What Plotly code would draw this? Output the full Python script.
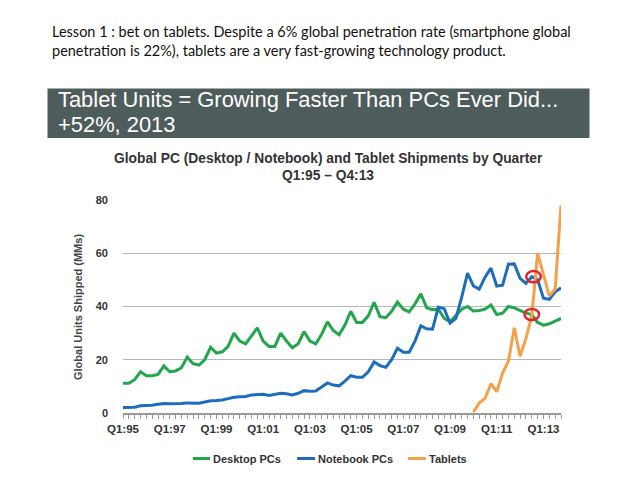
import plotly.graph_objects as go

# ---------------- data ----------------
years = list(range(1995, 2014))
quarters = [f"Q{q}:{y % 100:02d}" for y in years for q in range(1, 5)]
tick_labels = [f"<b>{lab}</b>" if (lab.startswith("Q1:") and int(lab[3:]) % 2 == 1) else "" for lab in quarters]

desktop = [11.2, 11.2, 12.5, 15.5, 14.0, 14.0, 14.5, 17.7, 15.5, 15.8,
           17.0, 21.0, 18.5, 18.0, 20.0, 24.7, 22.5, 23.0, 25.0, 30.0,
           27.0, 26.0, 29.0, 32.0, 27.0, 25.0, 25.0, 30.0, 27.0, 24.5,
           26.0, 30.6, 27.0, 26.0, 29.5, 34.2, 31.0, 29.4, 33.0, 38.2,
           34.0, 34.0, 36.5, 41.6, 36.2, 35.8, 38.2, 41.7, 39.0, 38.0,
           41.0, 44.8, 39.5, 38.8, 39.0, 35.5, 34.3, 36.5, 39.0, 40.0,
           38.3, 38.5, 39.0, 40.6, 37.0, 37.5, 40.0, 39.5, 38.5, 37.5,
           37.0, 34.0, 33.0, 33.5, 34.5, 35.5]

notebook = [2.1, 2.1, 2.2, 2.7, 2.7, 2.9, 3.3, 3.6, 3.5, 3.5,
            3.6, 3.8, 3.8, 3.7, 4.1, 4.6, 4.7, 4.9, 5.4, 5.9,
            6.1, 6.2, 6.8, 7.0, 7.0, 6.6, 6.9, 7.4, 7.2, 6.8,
            7.4, 8.4, 8.2, 8.3, 9.8, 11.3, 10.5, 10.2, 12.0, 14.0,
            13.4, 13.4, 15.5, 19.2, 17.8, 17.2, 20.0, 24.3, 22.8, 22.8,
            27.0, 32.7, 31.6, 31.5, 39.8, 39.2, 33.8, 35.5, 43.5, 52.5,
            47.7, 46.5, 51.0, 54.4, 47.7, 48.0, 55.9, 56.0, 50.6, 48.7,
            51.2, 50.0, 43.1, 42.7, 45.5, 47.0]

tablets = [None] * 60 + [0.3, 3.8, 5.5, 11.0, 8.0, 15.0, 19.5, 32.0, 21.3, 28.0,
                         36.5, 60.0, 52.0, 44.0, 46.5, 78.0]

series_names = ["Desktop PCs", "Notebook PCs", "Tablets"]
series_colors = ["#22a64b", "#1d6dbf", "#f6a04b"]
highlight_index = 70  # Q3:12 crossover quarter

# ---------------- geometry helpers (layout only) ----------------
L, R, T, B = 123, 561, 200, 413
W, H = 638, 478
def px(x):
    return (x - L) / (R - L)
def py(y):
    return (B - y) / (B - T)

ARIAL = "Arial, 'Liberation Sans', Helvetica, sans-serif"

fig = go.Figure()
for name, vals, col in zip(series_names, [desktop, notebook, tablets], series_colors):
    fig.add_trace(go.Scatter(x=quarters, y=vals, mode="lines", name=name,
                             line=dict(color=col, width=3), showlegend=False,
                             connectgaps=False))

# red highlight ellipses around crossover points
for vals, dx in [(notebook, 0.3), (desktop, 0.0)]:
    cx = highlight_index + dx
    cy = vals[highlight_index]
    fig.add_shape(type="circle", xref="x", yref="y",
                  x0=cx - 1.25, x1=cx + 1.25, y0=cy - 2.1, y1=cy + 2.1,
                  line=dict(color="#e3262b", width=2.5))

shapes = []
# banner
shapes.append(dict(type="rect", xref="paper", yref="paper",
                   x0=px(47.5), x1=px(589.5), y0=py(138), y1=py(88.5),
                   fillcolor="#4f5c5c", line=dict(width=0), layer="below"))
# custom legend line samples
leg = [(193, 210), (297, 315), (408, 426)]
for (a, b), col in zip(leg, series_colors):
    shapes.append(dict(type="line", xref="paper", yref="paper",
                       x0=px(a), x1=px(b), y0=py(458.5), y1=py(458.5),
                       line=dict(color=col, width=3)))
for s in shapes:
    fig.add_shape(**s)

ann = []
slide_font = dict(family="Lato", size=14.5, color="#111111")
ann.append(dict(text="Lesson 1 : bet on tablets. Despite a 6% global penetration rate (smartphone global",
                x=px(50), y=py(31.5), xanchor="left", yanchor="middle", font=slide_font))
ann.append(dict(text="penetration is 22%), tablets are a very fast-growing technology product.",
                x=px(50), y=py(50.5), xanchor="left", yanchor="middle", font=slide_font))
banner_font = dict(family=ARIAL, size=21.9, color="#ffffff")
ann.append(dict(text="Tablet Units = Growing Faster Than PCs Ever Did...",
                x=px(55.5), y=py(99.5), xanchor="left", yanchor="middle", font=banner_font))
ann.append(dict(text="+52%, 2013",
                x=px(55.5), y=py(124.5), xanchor="left", yanchor="middle", font=banner_font))
title_font = dict(family=ARIAL, size=13.8, color="#333333")
ann.append(dict(text="<b>Global PC (Desktop / Notebook) and Tablet Shipments by Quarter</b>",
                x=px(328), y=py(158.5), xanchor="center", yanchor="middle", font=title_font))
ann.append(dict(text="<b>Q1:95 \u2013 Q4:13</b>",
                x=px(328), y=py(175.5), xanchor="center", yanchor="middle", font=title_font))
ann.append(dict(text="<b>Global Units Shipped (MMs)</b>", textangle=-90,
                x=px(78), y=py(307), xanchor="center", yanchor="middle",
                font=dict(family=ARIAL, size=11, color="#444444")))
for (a, b), name in zip(leg, series_names):
    ann.append(dict(text=f"<b>{name}</b>", x=px(b + 1), y=py(458.5), xanchor="left",
                    yanchor="middle", font=dict(family=ARIAL, size=11, color="#333333")))
for a in ann:
    fig.add_annotation(xref="paper", yref="paper", showarrow=False, **a)

fig.update_layout(
    width=W, height=H,
    margin=dict(l=L, r=W - R, t=T, b=H - B, pad=0),
    paper_bgcolor="white", plot_bgcolor="white",
    showlegend=False,
    font=dict(family=ARIAL),
    xaxis=dict(type="category", categoryorder="array", categoryarray=quarters,
               tickmode="array", tickvals=quarters, ticktext=tick_labels,
               ticks="outside", ticklen=4, tickcolor="#999999", tickwidth=1,
               showline=True, linecolor="#9a9a9a", linewidth=1.5,
               showgrid=False, tickangle=0,
               tickfont=dict(family=ARIAL, size=11.5, color="#333333")),
    yaxis=dict(range=[0, 80], dtick=20, showgrid=True, gridcolor="#b8b8b8", gridwidth=1.3,
               zeroline=False, showline=False, ticks="", ticklabelstandoff=14,
               tickfont=dict(family=ARIAL, size=11, color="#333333"),
               tickprefix="<b>", ticksuffix="</b>"),
)

fig.write_html("out.html")
